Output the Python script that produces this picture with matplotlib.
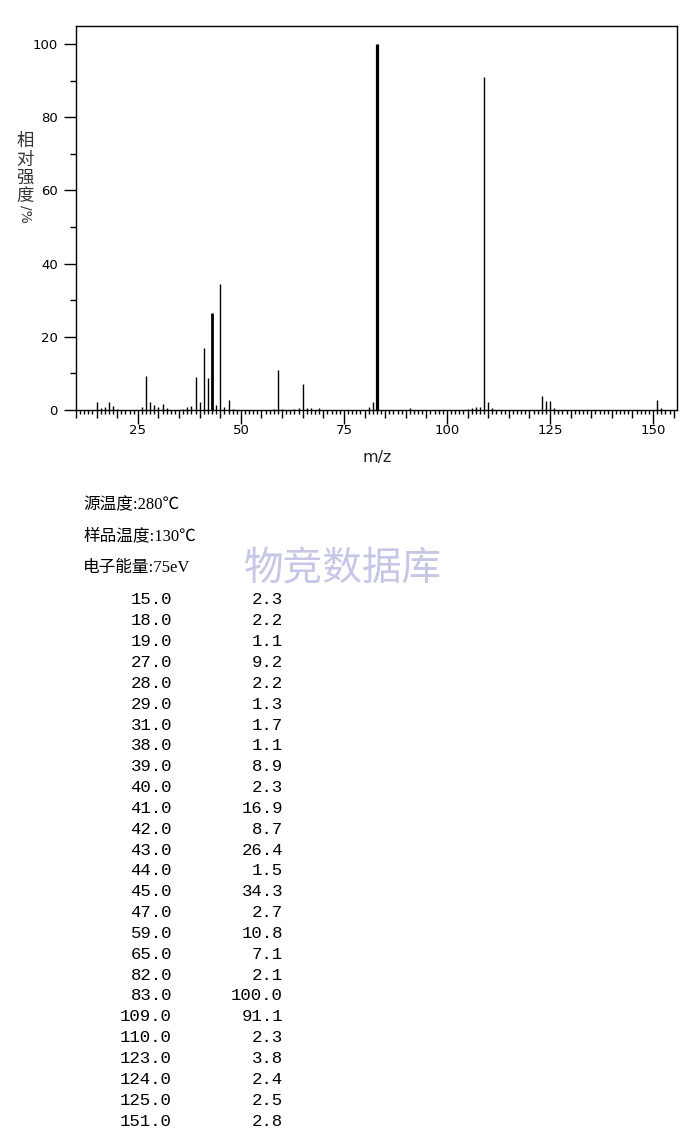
import numpy as np
import matplotlib.pyplot as plt
from matplotlib.ticker import MultipleLocator

# peaks listed in the table (m/z, relative intensity %)
mz = [15, 18, 19, 27, 28, 29, 31, 38, 39, 40, 41, 42, 43, 44, 45, 47,
      59, 65, 82, 83, 109, 110, 123, 124, 125, 151]
intensity = [2.3, 2.2, 1.1, 9.2, 2.2, 1.3, 1.7, 1.1, 8.9, 2.3, 16.9, 8.7, 26.4,
             1.5, 34.3, 2.7, 10.8, 7.1, 2.1, 100.0, 91.1, 2.3, 3.8, 2.4, 2.5, 2.8]

# tiny peaks visible in the spectrum but not in the table
mz_small = [16, 17, 20, 26, 30, 32, 36, 37, 46, 48, 58, 60, 63, 64, 66, 67, 69,
            81, 91, 105, 106, 107, 108, 111, 126, 152]
int_small = [0.5, 0.8, 0.4, 0.9, 0.8, 0.5, 0.4, 0.7, 0.9, 0.4, 0.4, 0.4, 0.4, 0.5,
             0.5, 0.5, 0.5, 0.9, 0.5, 0.4, 0.5, 0.8, 0.9, 0.6, 0.6, 0.6]

source_temp = "源温度:280℃"
sample_temp = "样品温度:130℃"
energy = "电子能量:75eV"
watermark = "物竞数据库"

W, H = 687, 1134
fig = plt.figure(figsize=(W / 100, H / 100), dpi=100)


def fx(x):
    return x / W


def fy(y):
    return 1 - y / H


# axes box in pixels: left 76, right 677, top 26, bottom 410
ax = fig.add_axes([fx(76), fy(410), fx(677) - fx(76), fy(26) - fy(410)])

thick = {43: 2.0, 83: 2.3}
ax.vlines(mz_small, 0, int_small, colors='black', linewidth=1.0)
for m, v in zip(mz, intensity):
    ax.vlines(m, 0, v, colors='black', linewidth=thick.get(m, 1.0))

ax.set_xlim(10, 155.8)
ax.set_ylim(0, 104.9)

# x ticks: every 1 (short), every 5 (medium), every 25 (long, labelled)
xt = np.arange(10, 156, 5)
ax.set_xticks(xt)
ax.set_xticklabels([str(t) if t % 25 == 0 else '' for t in xt])
ax.xaxis.set_minor_locator(MultipleLocator(1))
ax.tick_params(axis='x', which='major', length=6, width=1, direction='out', labelsize=9.5, pad=4)
ax.tick_params(axis='x', which='minor', length=3, width=1, direction='out')
for t, tick in zip(xt, ax.xaxis.get_major_ticks()):
    if t % 25 == 0:
        tick.tick1line.set_markersize(10)

ax.set_yticks(np.arange(0, 101, 20))
ax.yaxis.set_minor_locator(MultipleLocator(10))
ax.tick_params(axis='y', which='major', length=9, width=1, direction='out', labelsize=9.5, pad=4)
ax.tick_params(axis='y', which='minor', length=4, width=1, direction='out')

for s in ax.spines.values():
    s.set_linewidth(1.0)
    s.set_color('black')

fig.text(fx(377), fy(458), "m/z", ha='center', va='center', fontsize=11.5, color='#222222')

# vertical stacked y label
cjk = ['Noto Sans CJK SC', 'DejaVu Sans']
for i, ch in enumerate("相对强度"):
    fig.text(fx(25), fy(141 + i * 18.5), ch, ha='center', va='center',
             fontsize=12.5, color='#333333', family=cjk)
fig.text(fx(25), fy(214), "/%", ha='center', va='center', rotation=-90,
         fontsize=10, color='#333333')

# header texts
mixed = ['Liberation Serif', 'Noto Sans CJK SC']
for i, s in enumerate([source_temp, sample_temp, energy]):
    fig.text(fx(83), fy(505 + i * 31.5), s, ha='left', va='center',
             fontsize=12, color='black', family=mixed)

fig.text(fx(343), fy(568), watermark, ha='center', va='center',
         fontsize=28.5, color='#c6c6e6', family=cjk)

# peak table
for i, (m, v) in enumerate(zip(mz, intensity)):
    y = fy(600 + i * 20.84)
    fig.text(fx(172), y, f"{m:.1f}", ha='right', va='center',
             fontsize=12.5, family='Liberation Mono', color='black')
    fig.text(fx(283), y, f"{v:.1f}", ha='right', va='center',
             fontsize=12.5, family='Liberation Mono', color='black')

fig.savefig('out.png', dpi=100)
